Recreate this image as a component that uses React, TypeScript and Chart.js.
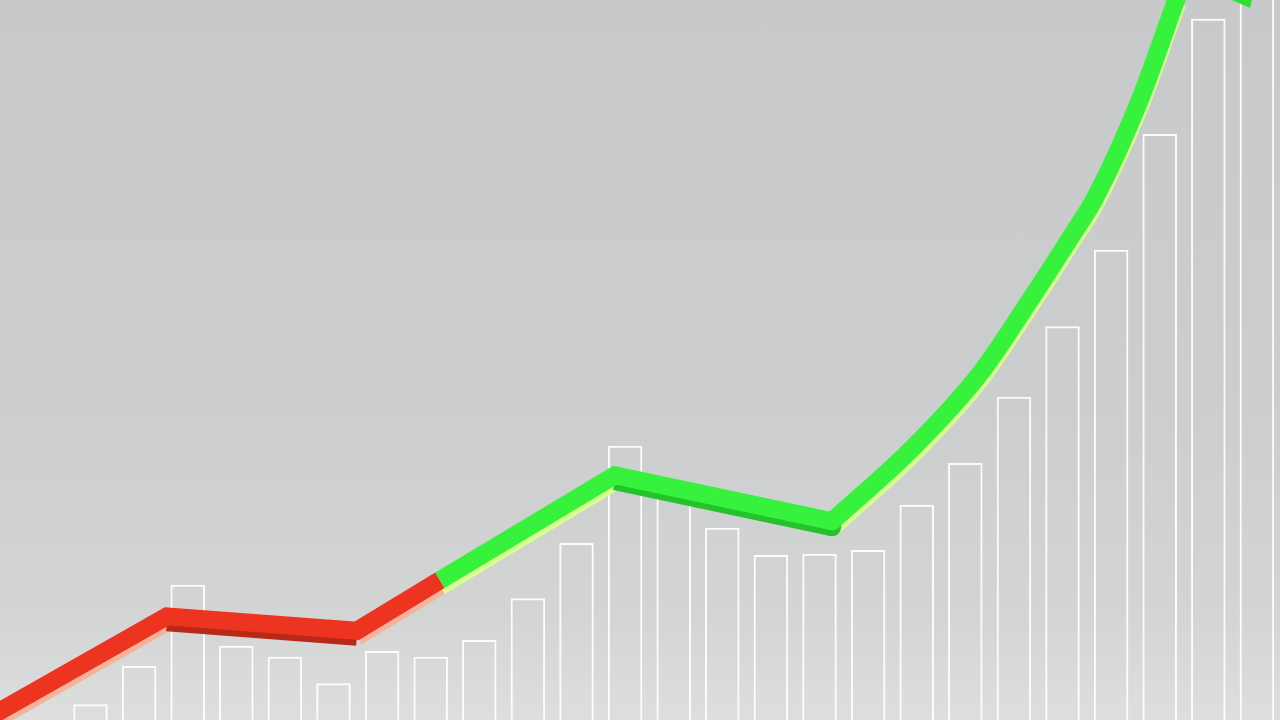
import React, { useEffect, useRef } from "react";
import { Chart, registerables } from "chart.js";

Chart.register(...registerables);

// Bar periods (x positions on a linear period axis) and their heights
const periods = [1, 2, 3, 4, 5, 6, 7, 8, 9, 10, 11, 12, 13, 14, 15, 16, 17, 18, 19, 20, 21, 22, 23, 24, 25];
const barValues = [2.2, 7.5, 18.8, 10.3, 8.8, 5.1, 9.6, 8.8, 11.1, 16.9, 24.6, 38.1, 32.6, 26.7, 22.9, 23.1, 23.6, 29.9, 35.7, 44.9, 54.7, 65.3, 81.4, 97.4, 108];

// Trend line, straight part (period, value)
const trendX = [-1.5, 2.57, 6.48, 8.19, 11.79, 16.26];
const trendY = [-1.2, 14.4, 12.4, 19.4, 34.0, 27.6];
// Trend line, curved rally (starts at the last low)
const curveX = [16.26, 17.92, 19.3, 20.33, 21.22, 21.67, 22.59, 23.34, 23.73];
const curveY = [27.6, 37.8, 48.1, 58.3, 67.6, 72.5, 86.1, 100, 107];
// Period where trend turns from red (loss) to green (gain)
const colorSwitchX = 8.19;

// Arrow head tip (mostly out of view)
const arrowX = [24.28, 24.86, 24.98];
const arrowY = [100.6, 98.9, 102.8];

const xRange = [-0.862, 25.475];
const yRange = [0, 100];

const RED = "#ec3420";
const GREEN = "#36f23c";

const shiftPlugin = {
  id: "ribbonShift",
  beforeDatasetDraw(chart: any, args: any) {
    const ds: any = chart.data.datasets[args.index];
    if (ds.shiftY) {
      chart.ctx.save();
      chart.ctx.translate(0, ds.shiftY);
    }
  },
  afterDatasetDraw(chart: any, args: any) {
    const ds: any = chart.data.datasets[args.index];
    if (ds.shiftY) chart.ctx.restore();
  },
};

const underColor = (c: any) => {
  const rising = c.p1.parsed.y > c.p0.parsed.y;
  const red = c.p0.parsed.x < colorSwitchX;
  if (red) return rising ? "#f4b49c" : "#b8291a";
  return rising ? "#d8ff90" : "#26c22e";
};
const faceColor = (c: any) => (c.p0.parsed.x < colorSwitchX ? RED : GREEN);

export default function App() {
  const ref = useRef<HTMLCanvasElement | null>(null);

  useEffect(() => {
    if (!ref.current) return;
    const barData = periods.map((p, i) => ({ x: p, y: barValues[i] }));
    const trendData = trendX.map((x, i) => ({ x, y: trendY[i] }));
    const curveData = curveX.map((x, i) => ({ x, y: curveY[i] }));
    const jointData = [{ x: curveX[0], y: curveY[0] }];
    const arrowData = arrowX.map((x, i) => ({ x, y: arrowY[i] }));

    const lineBase = {
      type: "line",
      borderWidth: 18,
      pointRadius: 0,
      borderJoinStyle: "miter",
      borderCapStyle: "butt",
    };

    const chart = new Chart(ref.current, {
      type: "bar",
      data: {
        datasets: [
          {
            type: "bar",
            data: barData as any,
            backgroundColor: "rgba(255,255,255,0)",
            borderColor: "rgba(255,255,255,0.92)",
            borderWidth: 2,
            borderSkipped: "start",
            categoryPercentage: 1,
            barPercentage: 0.71,
            order: 8,
          } as any,
          {
            ...lineBase,
            data: curveData as any,
            cubicInterpolationMode: "monotone",
            shiftY: 6,
            borderColor: "#d8ff90",
            order: 7,
          } as any,
          {
            ...lineBase,
            data: trendData as any,
            shiftY: 6,
            segment: { borderColor: underColor },
            order: 6,
          } as any,
          {
            type: "line",
            data: jointData as any,
            showLine: false,
            shiftY: 6,
            pointRadius: 9,
            pointBorderWidth: 0,
            pointBackgroundColor: "#26c22e",
            order: 5,
          } as any,
          {
            ...lineBase,
            data: curveData as any,
            cubicInterpolationMode: "monotone",
            borderColor: GREEN,
            order: 4,
          } as any,
          {
            ...lineBase,
            data: trendData as any,
            segment: { borderColor: faceColor },
            order: 3,
          } as any,
          {
            type: "line",
            data: jointData as any,
            showLine: false,
            pointRadius: 9,
            pointBorderWidth: 0,
            pointBackgroundColor: GREEN,
            order: 2,
          } as any,
          {
            type: "line",
            data: arrowData as any,
            borderWidth: 0,
            borderColor: GREEN,
            backgroundColor: "#2ee034",
            fill: "shape",
            pointRadius: 0,
            order: 1,
          } as any,
        ],
      },
      options: {
        animation: false,
        responsive: true,
        maintainAspectRatio: false,
        events: [],
        layout: { padding: 0, autoPadding: false },
        plugins: { legend: { display: false }, tooltip: { enabled: false } },
        scales: {
          x: { type: "linear", min: xRange[0], max: xRange[1], offset: false, display: false, grid: { offset: false } },
          y: { type: "linear", min: yRange[0], max: yRange[1], display: false },
        },
      },
      plugins: [shiftPlugin],
    });
    return () => chart.destroy();
  }, []);

  return (
    <div
      style={{
        position: "fixed",
        left: 0,
        top: 0,
        width: 1280,
        height: 720,
        background: "linear-gradient(180deg, #c7c9ca 0%, #cbcdce 55%, #d3d5d5 85%, #dddfdf 100%)",
      }}
    >
      <canvas ref={ref} />
    </div>
  );
}
